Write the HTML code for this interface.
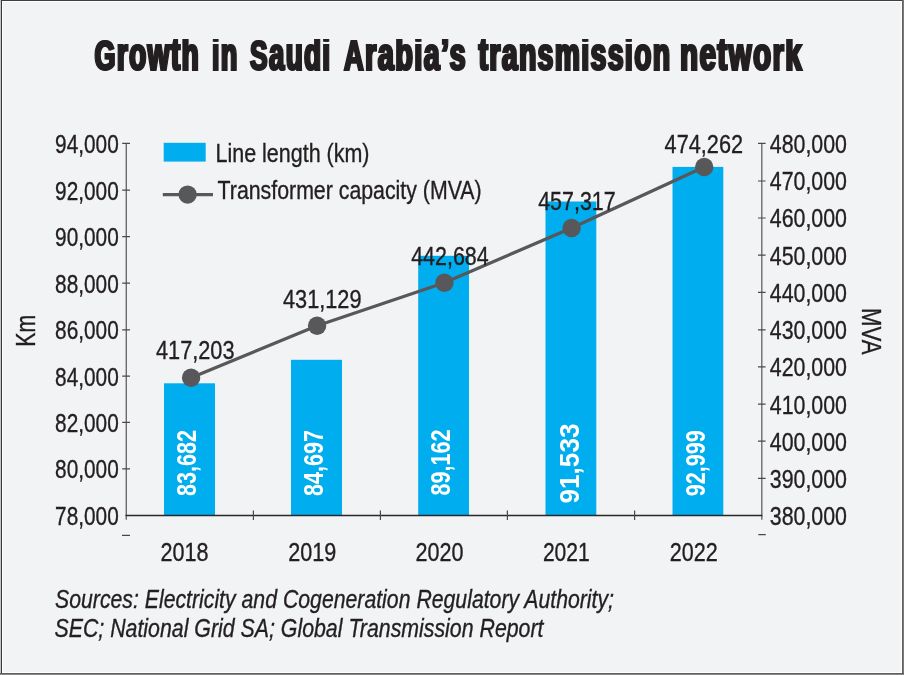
<!DOCTYPE html>
<html lang="en">
<head>
<meta charset="utf-8">
<title>Growth in Saudi Arabia's transmission network</title>
<style>
  html, body { margin: 0; padding: 0; background: #f2f3f4; }
  body { width: 904px; height: 675px; overflow: hidden; position: relative;
         font-family: "Liberation Sans", sans-serif; }
  svg { position: absolute; left: 0; top: 0; display: block; will-change: transform; }
  text { font-family: "Liberation Sans", sans-serif; fill: #231f20; }
  .ax text, text.ax, text.lg, .src text { stroke: #231f20; stroke-width: 0.35px; }
  .ttl text { font-weight: bold; font-size: 45.5px; letter-spacing: 2.4px; stroke: #231f20; stroke-width: 1.9px; stroke-linejoin: miter; }
  .ttl .c { font-size: 43.4px; }
  .ax text, text.ax { font-size: 25px; }
  .lg  { font-size: 25.5px; }
  .src text { font-size: 25px; font-style: italic; }
  .bar { fill: #00adee; }
  .bl text { font-weight: bold; font-size: 27px; fill: #ffffff; }
  .tk  { stroke: #4a484a; stroke-width: 1.2; fill: none; }
</style>
</head>
<body>
<svg width="904" height="675" viewBox="0 0 904 675">
  <!-- background + frame -->
  <rect x="0" y="0" width="904" height="675" fill="#f2f3f4"/>
  <path d="M2 1H902V673H2Z M3 2V672H901V2Z" fill="#ffffff" fill-rule="evenodd"/>
  <rect x="0" y="0" width="902" height="1" fill="#403e3f"/>
  <rect x="0" y="0" width="1" height="675" fill="#c4c4c5"/>
  <rect x="1" y="0" width="1" height="675" fill="#3a3839"/>
  <rect x="902" y="0" width="1" height="675" fill="#5f5e5f"/>
  <rect x="903" y="0" width="1" height="675" fill="#7c7b7c"/>
  <rect x="0" y="673" width="904" height="1" fill="#5f5e5f"/>
  <rect x="0" y="674" width="904" height="1" fill="#8a898a"/>

  <!-- title (drawn twice with a sub-pixel x offset to thicken vertical stems) -->
  <defs>
    <g id="ttl" class="ttl">
      <text x="94.6"  y="70.4" textLength="105.6" lengthAdjust="spacingAndGlyphs"><tspan class="c">G</tspan>rowth</text>
      <text x="212" y="70.4" textLength="26.6"  lengthAdjust="spacingAndGlyphs">in</text>
      <text x="250" y="70.4" textLength="81.6"  lengthAdjust="spacingAndGlyphs"><tspan class="c">S</tspan>audi</text>
      <text x="344" y="70.4" textLength="123.0" lengthAdjust="spacingAndGlyphs"><tspan class="c">A</tspan>rabia’s</text>
      <text x="478.6" y="70.4" textLength="193.0" lengthAdjust="spacingAndGlyphs">transmission</text>
      <text x="680.2" y="70.4" textLength="123.1" lengthAdjust="spacingAndGlyphs">network</text>
  </g>
  </defs>
  <clipPath id="tc"><rect x="0" y="38.9" width="904" height="40"/></clipPath>
  <g clip-path="url(#tc)">
    <use href="#ttl" x="-0.6" y="0"/>
    <use href="#ttl" x="0.6" y="0"/>
  </g>

  <!-- bars -->
  <rect class="bar" x="164"   y="383.3" width="51" height="132.2"/>
  <rect class="bar" x="291"   y="359.8" width="51" height="155.7"/>
  <rect class="bar" x="418.2" y="255.8" width="50.8" height="259.7"/>
  <rect class="bar" x="545.5" y="201.5" width="50.8" height="314"/>
  <rect class="bar" x="672.5" y="166.9" width="50.8" height="348.6"/>

  <!-- axes -->
  <line x1="126.3" y1="143" x2="126.3" y2="519.8" stroke="#6d6b6d" stroke-width="1.4"/>
  <line x1="761.8" y1="143" x2="761.8" y2="519.8" stroke="#6d6b6d" stroke-width="1.4"/>
  <line x1="125.5" y1="515.45" x2="762.4" y2="515.45" stroke="#2a2728" stroke-width="1.4"/>
  <g class="tk">
    <!-- left ticks -->
    <path d="M122.2 143.3H130 M122.2 190.1H130 M122.2 236.6H130 M122.2 283.2H130 M122.2 329.8H130 M122.2 376.2H130 M122.2 422.4H130 M122.2 468.9H130"/>
    <!-- right ticks -->
    <path d="M758 143.3H765.6 M758 181.0H765.6 M758 218.0H765.6 M758 255.2H765.6 M758 292.4H765.6 M758 329.9H765.6 M758 366.9H765.6 M758 404.1H765.6 M758 441.2H765.6 M758 478.4H765.6"/>
    <!-- x ticks -->
    <path d="M253.4 510.5V520 M380.4 510.5V520 M507.4 510.5V520 M634.6 510.5V520"/>
    <!-- stray dashes -->
    <path d="M122 535.4H130 M758.3 534.6H765.8"/>
  </g>

  <!-- left axis labels -->
  <g class="ax">
    <text x="55.1" y="152.8" textLength="63.6" lengthAdjust="spacingAndGlyphs">94,000</text>
    <text x="55.1" y="199.6" textLength="63.6" lengthAdjust="spacingAndGlyphs">92,000</text>
    <text x="55.1" y="246.1" textLength="63.6" lengthAdjust="spacingAndGlyphs">90,000</text>
    <text x="55.1" y="292.7" textLength="63.6" lengthAdjust="spacingAndGlyphs">88,000</text>
    <text x="55.1" y="339.3" textLength="63.6" lengthAdjust="spacingAndGlyphs">86,000</text>
    <text x="55.1" y="385.7" textLength="63.6" lengthAdjust="spacingAndGlyphs">84,000</text>
    <text x="55.1" y="431.9" textLength="63.6" lengthAdjust="spacingAndGlyphs">82,000</text>
    <text x="55.1" y="478.4" textLength="63.6" lengthAdjust="spacingAndGlyphs">80,000</text>
    <text x="55.1" y="525.0" textLength="63.6" lengthAdjust="spacingAndGlyphs">78,000</text>
  </g>

  <!-- right axis labels -->
  <g class="ax">
    <text x="769.8" y="152.7" textLength="77.2" lengthAdjust="spacingAndGlyphs">480,000</text>
    <text x="769.8" y="190.4" textLength="77.2" lengthAdjust="spacingAndGlyphs">470,000</text>
    <text x="769.8" y="227.4" textLength="77.2" lengthAdjust="spacingAndGlyphs">460,000</text>
    <text x="769.8" y="264.6" textLength="77.2" lengthAdjust="spacingAndGlyphs">450,000</text>
    <text x="769.8" y="301.8" textLength="77.2" lengthAdjust="spacingAndGlyphs">440,000</text>
    <text x="769.8" y="339.3" textLength="77.2" lengthAdjust="spacingAndGlyphs">430,000</text>
    <text x="769.8" y="376.3" textLength="77.2" lengthAdjust="spacingAndGlyphs">420,000</text>
    <text x="769.8" y="413.5" textLength="77.2" lengthAdjust="spacingAndGlyphs">410,000</text>
    <text x="769.8" y="450.6" textLength="77.2" lengthAdjust="spacingAndGlyphs">400,000</text>
    <text x="769.8" y="487.8" textLength="77.2" lengthAdjust="spacingAndGlyphs">390,000</text>
    <text x="769.8" y="524.9" textLength="77.2" lengthAdjust="spacingAndGlyphs">380,000</text>
  </g>

  <!-- axis titles -->
  <text class="ax" style="font-size:27.5px" transform="translate(35.3 346.8) rotate(-90)" textLength="32" lengthAdjust="spacingAndGlyphs">Km</text>
  <text class="ax" style="font-size:27.5px" transform="translate(861.6 308) rotate(90)" textLength="46.5" lengthAdjust="spacingAndGlyphs">MVA</text>

  <!-- x labels -->
  <g class="ax">
    <text x="160.5" y="560.7" textLength="48" lengthAdjust="spacingAndGlyphs">2018</text>
    <text x="288.3" y="560.7" textLength="48" lengthAdjust="spacingAndGlyphs">2019</text>
    <text x="415.4" y="560.7" textLength="48" lengthAdjust="spacingAndGlyphs">2020</text>
    <text x="542.9" y="560.7" textLength="46.8" lengthAdjust="spacingAndGlyphs">2021</text>
    <text x="669.8" y="560.7" textLength="48" lengthAdjust="spacingAndGlyphs">2022</text>
  </g>

  <!-- legend -->
  <rect class="bar" x="163.7" y="142.8" width="42" height="18.8"/>
  <line x1="162.8" y1="194.6" x2="213" y2="194.6" stroke="#58585a" stroke-width="3.4"/>
  <circle cx="187.6" cy="194.6" r="9.2" fill="#58585a"/>
  <text class="lg" x="215.5" y="161.6" textLength="154" lengthAdjust="spacingAndGlyphs">Line length (km)</text>
  <text class="lg" x="217.6" y="198.6" textLength="264" lengthAdjust="spacingAndGlyphs">Transformer capacity (MVA)</text>

  <!-- line series -->
  <polyline points="191.1,377.7 317.1,325.7 444.4,282.7 571.6,228 704.2,167" fill="none" stroke="#58585a" stroke-width="3.2" stroke-linejoin="round"/>
  <g fill="#58585a">
    <circle cx="191.1" cy="377.7" r="9.2"/>
    <circle cx="317.1" cy="325.7" r="9.2"/>
    <circle cx="444.4" cy="282.7" r="9.2"/>
    <circle cx="571.6" cy="228"   r="9.2"/>
    <circle cx="704.2" cy="167"   r="9.2"/>
  </g>

  <!-- point labels -->
  <g class="ax">
    <text x="156"   y="359.1" textLength="78.5" lengthAdjust="spacingAndGlyphs">417,203</text>
    <text x="283"   y="307.8" textLength="78.5" lengthAdjust="spacingAndGlyphs">431,129</text>
    <text x="411.2" y="264.9" textLength="77.5" lengthAdjust="spacingAndGlyphs">442,684</text>
    <text x="538.2" y="210.2" textLength="77.5" lengthAdjust="spacingAndGlyphs">457,317</text>
    <text x="664.6" y="152.9" textLength="78.5" lengthAdjust="spacingAndGlyphs">474,262</text>
  </g>

  <!-- in-bar labels -->
  <g class="bl">
    <text transform="translate(196.2 496) rotate(-90)" textLength="66" lengthAdjust="spacingAndGlyphs">83,682</text>
    <text transform="translate(323 496) rotate(-90)" textLength="66" lengthAdjust="spacingAndGlyphs">84,697</text>
    <text transform="translate(450.2 495.5) rotate(-90)" textLength="66" lengthAdjust="spacingAndGlyphs">89,162</text>
    <text transform="translate(578.7 503.5) rotate(-90)" textLength="80" lengthAdjust="spacingAndGlyphs">91,533</text>
    <text transform="translate(705.1 496.3) rotate(-90)" textLength="66" lengthAdjust="spacingAndGlyphs">92,999</text>
  </g>

  <!-- sources -->
  <g class="src">
    <text x="55"   y="607.7" textLength="559" lengthAdjust="spacingAndGlyphs">Sources: Electricity and Cogeneration Regulatory Authority;</text>
    <text x="54.5" y="636.5" textLength="489" lengthAdjust="spacingAndGlyphs">SEC; National Grid SA; Global Transmission Report</text>
  </g>
</svg>
</body>
</html>
